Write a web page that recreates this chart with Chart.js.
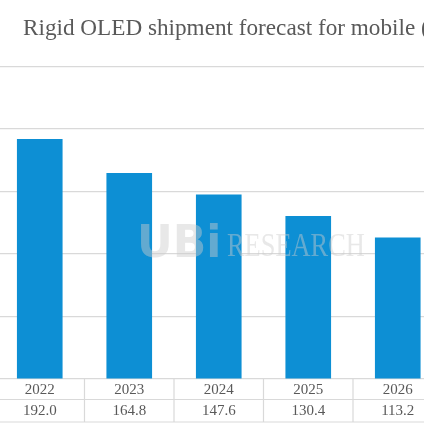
<!DOCTYPE html>
<html>
<head>
<meta charset="utf-8">
<script src="https://cdn.jsdelivr.net/npm/chart.js@4/dist/chart.umd.min.js"></script>
<style>
  html, body { margin: 0; padding: 0; background: #fff; }
  #wrap { position: relative; width: 424px; height: 424px; overflow: hidden; }
  #box { position: absolute; left: -5px; top: 0; width: 448px; height: 424px; }
</style>
</head>
<body>
<div id="wrap">
  <div id="box"><canvas id="chart"></canvas></div>
</div>
<script>
const titleText = "Rigid OLED shipment forecast for mobile (M units)";
const years = ["2022", "2023", "2024", "2025", "2026"];
const shipments = [192.0, 164.8, 147.6, 130.4, 113.2];
const yTicks = [0, 50, 100, 150, 200, 250];

const textColor = "#595959";
const lineColor = "#d9d9d9";
const serif = "'Liberation Serif', 'Times New Roman', serif";

// title, watermark and data table under the bars
const extras = {
  id: "extras",
  beforeDatasetsDraw(chart) {
    const ctx = chart.ctx;
    ctx.save();
    ctx.fillStyle = textColor;
    ctx.font = "23.2px " + serif;
    ctx.textBaseline = "alphabetic";
    ctx.textAlign = "left";
    ctx.fillText(titleText, 28, 35);
    ctx.restore();
  },
  afterDatasetsDraw(chart) {
    const ctx = chart.ctx;
    const x = chart.scales.x;
    const area = chart.chartArea;
    const row1 = area.bottom + 20.5;
    const row2 = area.bottom + 43;

    // watermark
    ctx.save();
    ctx.fillStyle = "rgba(205,205,205,0.45)";
    ctx.font = "bold 44px 'DejaVu Sans', sans-serif";
    ctx.textBaseline = "alphabetic";
    ctx.fillText("UBi", 142, 257);
    ctx.translate(232, 256);
    ctx.scale(0.8, 1);
    ctx.font = "33px " + serif;
    ctx.fillText("RESEARCH", 0, 0);
    ctx.restore();

    ctx.save();
    ctx.strokeStyle = lineColor;
    ctx.lineWidth = 1.2;
    ctx.beginPath();
    ctx.moveTo(0, row1);
    ctx.lineTo(chart.width, row1);
    ctx.moveTo(0, row2);
    ctx.lineTo(chart.width, row2);
    for (let i = 1; i < years.length; i++) {
      const bx = (x.getPixelForValue(i - 1) + x.getPixelForValue(i)) / 2;
      ctx.moveTo(bx, area.bottom);
      ctx.lineTo(bx, row2);
    }
    ctx.stroke();

    ctx.fillStyle = textColor;
    ctx.font = "15px " + serif;
    ctx.textAlign = "center";
    ctx.textBaseline = "middle";
    years.forEach((yr, i) => {
      const cx = x.getPixelForValue(i);
      ctx.fillText(yr, cx, area.bottom + 11);
      ctx.fillText(shipments[i].toFixed(1), cx, row1 + 12);
    });
    ctx.restore();
  }
};

new Chart(document.getElementById("chart"), {
  type: "bar",
  data: {
    labels: years,
    datasets: [{
      label: "Rigid OLED",
      data: shipments,
      backgroundColor: "#0d8fd4",
      borderWidth: 0,
      categoryPercentage: 1,
      barPercentage: 0.51
    }]
  },
  options: {
    responsive: true,
    maintainAspectRatio: false,
    animation: false,
    layout: { padding: { top: 66.5, bottom: 45, left: 0, right: 0.5 } },
    plugins: {
      legend: { display: false },
      title: { display: false },
      tooltip: { enabled: false }
    },
    scales: {
      x: { display: false },
      y: {
        min: 0,
        max: 250,
        afterBuildTicks: (scale) => { scale.ticks = yTicks.map((v) => ({ value: v })); },
        afterFit: (scale) => { scale.width = 0; },
        ticks: { display: false },
        border: { display: false },
        grid: { color: lineColor, lineWidth: 1.2, drawTicks: false }
      }
    }
  },
  plugins: [extras]
});
</script>
</body>
</html>
